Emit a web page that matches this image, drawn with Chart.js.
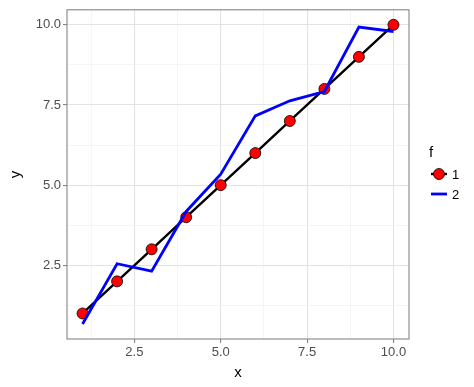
<!DOCTYPE html>
<html>
<head>
<meta charset="utf-8">
<script src="https://cdn.jsdelivr.net/npm/chart.js@4.4.0/dist/chart.umd.min.js"></script>
<style>
  html, body { margin: 0; padding: 0; background: #fff; }
  #wrap { width: 474px; height: 387px; }
</style>
</head>
<body>
<div id="wrap"><canvas id="chart" width="474" height="387"></canvas></div>
<script>
// values
var xValues = [1, 2, 3, 4, 5, 6, 7, 8, 9, 10];
var seriesF1 = [1, 2, 3, 4, 5, 6, 7, 8, 9, 10];
var seriesF2 = [0.67, 2.55, 2.32, 4.18, 5.34, 7.16, 7.63, 7.92, 9.93, 9.79];
var legendLabels = ['1', '2'];
var legendTitle = 'f';
var xMajorTicks = [2.5, 5.0, 7.5, 10.0];
var xMinorTicks = [1.25, 3.75, 6.25, 8.75];
var yMajorTicks = [2.5, 5.0, 7.5, 10.0];
var yMinorTicks = [1.25, 3.75, 6.25, 8.75];

var FONT = '"Liberation Sans", Arial, Helvetica, sans-serif';
var RED = '#ff0000';
var BLUE = '#0000ff';
var BORDER = '#858585';

function range(vals) {
    var lo = Math.min.apply(null, vals), hi = Math.max.apply(null, vals);
    var pad = (hi - lo) * 0.05;
    return {min: lo - pad, max: hi + pad};
}

var xr = range(xValues);
var yr = range(seriesF1.concat(seriesF2));

function pts(ys) {
    return xValues.map(function (x, i) { return {x: x, y: ys[i]}; });
}

function isMajor(list, v) {
    return list.some(function (m) { return Math.abs(m - v) < 1e-9; });
}

function axis(majors, minors, r, size) {
    var all = majors.concat(minors).sort(function (a, b) { return a - b; });
    return {
        type: 'linear',
        min: r.min,
        max: r.max,
        afterBuildTicks: function (scale) {
            scale.ticks = all.map(function (v) { return {value: v}; });
        },
        afterFit: function (scale) {
            if (scale.isHorizontal()) {
                scale.height = size;
            } else {
                scale.width = size;
            }
        },
        grid: {
            color: function (c) {
                return c.tick && isMajor(majors, c.tick.value) ? '#e3e3e3' : '#efefef';
            },
            lineWidth: function (c) {
                return c.tick && isMajor(majors, c.tick.value) ? 1.1 : 0.6;
            },
            tickColor: function (c) {
                return c.tick && isMajor(majors, c.tick.value) ? BORDER : 'rgba(0,0,0,0)';
            },
            tickLength: 4,
            drawTicks: true
        },
        border: {display: false},
        ticks: {
            autoSkip: false,
            maxRotation: 0,
            padding: 2,
            color: '#4d4d4d',
            font: {family: FONT, size: 13},
            callback: function (v) {
                return isMajor(majors, v) ? v.toFixed(1) : '';
            }
        }
    };
}

var xAxis = axis(xMajorTicks, xMinorTicks, xr, 48);
xAxis.title = {display: true, text: 'x', color: '#000', font: {family: FONT, size: 15}, padding: {top: 0, bottom: 5}};
var yAxis = axis(yMajorTicks, yMinorTicks, yr, 67);
yAxis.title = {display: true, text: 'y', color: '#000', font: {family: FONT, size: 15}, padding: {top: 7, bottom: 0}};

// panel border on top of data, like theme_bw
var panelBorder = {
    id: 'panelBorder',
    afterDatasetsDraw: function (chart) {
        var a = chart.chartArea, ctx = chart.ctx;
        ctx.save();
        ctx.strokeStyle = BORDER;
        ctx.lineWidth = 1.1;
        ctx.strokeRect(a.left, a.top, a.right - a.left, a.bottom - a.top);
        ctx.restore();
    }
};

// ggplot-like legend on the right
var sideLegend = {
    id: 'sideLegend',
    afterDraw: function (chart) {
        var ctx = chart.ctx;
        var ds = chart.data.datasets;
        ctx.save();
        ctx.fillStyle = '#000';
        ctx.font = '15px ' + FONT;
        ctx.textBaseline = 'alphabetic';
        ctx.textAlign = 'left';
        ctx.fillText(legendTitle, 429, 157);

        for (var i = 0; i < legendLabels.length; i++) {
            var cy = 174 + i * 20;
            var d = ds[i];
            ctx.strokeStyle = d.borderColor;
            ctx.lineWidth = d.borderWidth;
            ctx.beginPath();
            ctx.moveTo(431, cy);
            ctx.lineTo(447, cy);
            ctx.stroke();
            if (d.pointRadius > 0) {
                ctx.beginPath();
                ctx.arc(439, cy, d.pointRadius, 0, Math.PI * 2);
                ctx.fillStyle = d.pointBackgroundColor;
                ctx.fill();
                ctx.lineWidth = d.pointBorderWidth;
                ctx.strokeStyle = d.pointBorderColor;
                ctx.stroke();
            }
            ctx.fillStyle = '#000';
            ctx.font = '13px ' + FONT;
            ctx.textBaseline = 'middle';
            ctx.fillText(legendLabels[i], 452, cy + 1);
        }
        ctx.restore();
    }
};

new Chart(document.getElementById('chart').getContext('2d'), {
    type: 'line',
    data: {
        datasets: [
            {
                label: legendLabels[0],
                data: pts(seriesF1),
                borderColor: '#000',
                borderWidth: 2.4,
                pointRadius: 5.5,
                pointBackgroundColor: RED,
                pointBorderColor: '#000',
                pointBorderWidth: 0.8,
                tension: 0,
                order: 1
            },
            {
                label: legendLabels[1],
                data: pts(seriesF2),
                borderColor: BLUE,
                borderWidth: 2.8,
                pointRadius: 0,
                tension: 0,
                order: 0
            }
        ]
    },
    options: {
        responsive: false,
        animation: false,
        devicePixelRatio: 1,
        layout: {padding: {top: 9, right: 65, bottom: 0, left: 0}},
        scales: {x: xAxis, y: yAxis},
        plugins: {
            legend: {display: false},
            tooltip: {enabled: false}
        }
    },
    plugins: [panelBorder, sideLegend]
});
</script>
</body>
</html>
